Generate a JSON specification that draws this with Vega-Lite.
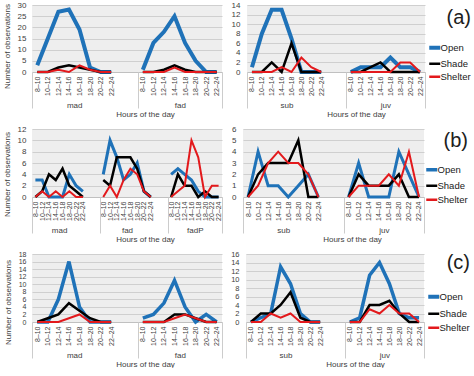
{
  "$schema": "https://vega.github.io/schema/vega-lite/v6.json",
  "padding": {"left": 3, "top": 1, "right": 0, "bottom": 0},
  "background": "white",
  "config": {
    "font": "Liberation Sans",
    "view": {"fill": "#eeeeee", "stroke": null},
    "axis": {"labelColor": "#404040", "titleColor": "#404040", "titleFontWeight": "normal"},
    "axisY": {"labelOverlap": false},
    "legend": {"labelColor": "#202020", "titleColor": "#202020"}
  },
  "datasets": {
    "aL": [
      {"g":"mad","h":"8–10","t":"Open","v":3},{"g":"mad","h":"10–12","t":"Open","v":15},{"g":"mad","h":"12–14","t":"Open","v":27},{"g":"mad","h":"14–16","t":"Open","v":28},{"g":"mad","h":"16–18","t":"Open","v":19},{"g":"mad","h":"18–20","t":"Open","v":2},{"g":"mad","h":"20–22","t":"Open","v":0},{"g":"mad","h":"22–24","t":"Open","v":0},
      {"g":"mad","h":"8–10","t":"Shade","v":0},{"g":"mad","h":"10–12","t":"Shade","v":0},{"g":"mad","h":"12–14","t":"Shade","v":2},{"g":"mad","h":"14–16","t":"Shade","v":3},{"g":"mad","h":"16–18","t":"Shade","v":2},{"g":"mad","h":"18–20","t":"Shade","v":1},{"g":"mad","h":"20–22","t":"Shade","v":0},{"g":"mad","h":"22–24","t":"Shade","v":0},
      {"g":"mad","h":"8–10","t":"Shelter","v":0},{"g":"mad","h":"10–12","t":"Shelter","v":0},{"g":"mad","h":"12–14","t":"Shelter","v":1},{"g":"mad","h":"14–16","t":"Shelter","v":0},{"g":"mad","h":"16–18","t":"Shelter","v":3},{"g":"mad","h":"18–20","t":"Shelter","v":1},{"g":"mad","h":"20–22","t":"Shelter","v":0},{"g":"mad","h":"22–24","t":"Shelter","v":0},
      {"g":"fad","h":"8–10","t":"Open","v":1},{"g":"fad","h":"10–12","t":"Open","v":13},{"g":"fad","h":"12–14","t":"Open","v":18},{"g":"fad","h":"14–16","t":"Open","v":25},{"g":"fad","h":"16–18","t":"Open","v":13},{"g":"fad","h":"18–20","t":"Open","v":5},{"g":"fad","h":"20–22","t":"Open","v":0},{"g":"fad","h":"22–24","t":"Open","v":0},
      {"g":"fad","h":"8–10","t":"Shade","v":0},{"g":"fad","h":"10–12","t":"Shade","v":0},{"g":"fad","h":"12–14","t":"Shade","v":1},{"g":"fad","h":"14–16","t":"Shade","v":3},{"g":"fad","h":"16–18","t":"Shade","v":1},{"g":"fad","h":"18–20","t":"Shade","v":0},{"g":"fad","h":"20–22","t":"Shade","v":0},{"g":"fad","h":"22–24","t":"Shade","v":0},
      {"g":"fad","h":"8–10","t":"Shelter","v":0},{"g":"fad","h":"10–12","t":"Shelter","v":0},{"g":"fad","h":"12–14","t":"Shelter","v":0},{"g":"fad","h":"14–16","t":"Shelter","v":2},{"g":"fad","h":"16–18","t":"Shelter","v":0},{"g":"fad","h":"18–20","t":"Shelter","v":0},{"g":"fad","h":"20–22","t":"Shelter","v":0},{"g":"fad","h":"22–24","t":"Shelter","v":0}
    ],
    "aR": [
      {"g":"sub","h":"8–10","t":"Open","v":1},{"g":"sub","h":"10–12","t":"Open","v":8},{"g":"sub","h":"12–14","t":"Open","v":13},{"g":"sub","h":"14–16","t":"Open","v":13},{"g":"sub","h":"16–18","t":"Open","v":7},{"g":"sub","h":"18–20","t":"Open","v":0},{"g":"sub","h":"20–22","t":"Open","v":0},{"g":"sub","h":"22–24","t":"Open","v":0},
      {"g":"sub","h":"8–10","t":"Shade","v":0},{"g":"sub","h":"10–12","t":"Shade","v":0},{"g":"sub","h":"12–14","t":"Shade","v":2},{"g":"sub","h":"14–16","t":"Shade","v":0},{"g":"sub","h":"16–18","t":"Shade","v":6},{"g":"sub","h":"18–20","t":"Shade","v":0},{"g":"sub","h":"20–22","t":"Shade","v":0},{"g":"sub","h":"22–24","t":"Shade","v":0},
      {"g":"sub","h":"8–10","t":"Shelter","v":0},{"g":"sub","h":"10–12","t":"Shelter","v":0},{"g":"sub","h":"12–14","t":"Shelter","v":0},{"g":"sub","h":"14–16","t":"Shelter","v":1},{"g":"sub","h":"16–18","t":"Shelter","v":0},{"g":"sub","h":"18–20","t":"Shelter","v":3},{"g":"sub","h":"20–22","t":"Shelter","v":1},{"g":"sub","h":"22–24","t":"Shelter","v":0},
      {"g":"juv","h":"8–10","t":"Open","v":0},{"g":"juv","h":"10–12","t":"Open","v":1},{"g":"juv","h":"12–14","t":"Open","v":1},{"g":"juv","h":"14–16","t":"Open","v":1},{"g":"juv","h":"16–18","t":"Open","v":3},{"g":"juv","h":"18–20","t":"Open","v":1},{"g":"juv","h":"20–22","t":"Open","v":1},{"g":"juv","h":"22–24","t":"Open","v":0},
      {"g":"juv","h":"8–10","t":"Shade","v":0},{"g":"juv","h":"10–12","t":"Shade","v":0},{"g":"juv","h":"12–14","t":"Shade","v":1},{"g":"juv","h":"14–16","t":"Shade","v":2},{"g":"juv","h":"16–18","t":"Shade","v":0},{"g":"juv","h":"18–20","t":"Shade","v":0},{"g":"juv","h":"20–22","t":"Shade","v":0},{"g":"juv","h":"22–24","t":"Shade","v":0},
      {"g":"juv","h":"8–10","t":"Shelter","v":0},{"g":"juv","h":"10–12","t":"Shelter","v":0},{"g":"juv","h":"12–14","t":"Shelter","v":0},{"g":"juv","h":"14–16","t":"Shelter","v":0},{"g":"juv","h":"16–18","t":"Shelter","v":0},{"g":"juv","h":"18–20","t":"Shelter","v":2},{"g":"juv","h":"20–22","t":"Shelter","v":2},{"g":"juv","h":"22–24","t":"Shelter","v":0}
    ],
    "bL": [
      {"g":"mad","h":"8–10","t":"Open","v":3},{"g":"mad","h":"10–12","t":"Open","v":3},{"g":"mad","h":"12–14","t":"Open","v":0},{"g":"mad","h":"14–16","t":"Open","v":0},{"g":"mad","h":"16–18","t":"Open","v":0},{"g":"mad","h":"18–20","t":"Open","v":4},{"g":"mad","h":"20–22","t":"Open","v":2},{"g":"mad","h":"22–24","t":"Open","v":1},
      {"g":"mad","h":"8–10","t":"Shade","v":0},{"g":"mad","h":"10–12","t":"Shade","v":1},{"g":"mad","h":"12–14","t":"Shade","v":4},{"g":"mad","h":"14–16","t":"Shade","v":3},{"g":"mad","h":"16–18","t":"Shade","v":5},{"g":"mad","h":"18–20","t":"Shade","v":2},{"g":"mad","h":"20–22","t":"Shade","v":1},{"g":"mad","h":"22–24","t":"Shade","v":0},
      {"g":"mad","h":"8–10","t":"Shelter","v":0},{"g":"mad","h":"10–12","t":"Shelter","v":1},{"g":"mad","h":"12–14","t":"Shelter","v":0},{"g":"mad","h":"14–16","t":"Shelter","v":1},{"g":"mad","h":"16–18","t":"Shelter","v":0},{"g":"mad","h":"18–20","t":"Shelter","v":1},{"g":"mad","h":"20–22","t":"Shelter","v":0},{"g":"mad","h":"22–24","t":"Shelter","v":0},
      {"g":"fad","h":"8–10","t":"Open","v":4},{"g":"fad","h":"10–12","t":"Open","v":10},{"g":"fad","h":"12–14","t":"Open","v":7},{"g":"fad","h":"14–16","t":"Open","v":3},{"g":"fad","h":"16–18","t":"Open","v":4},{"g":"fad","h":"18–20","t":"Open","v":6},{"g":"fad","h":"20–22","t":"Open","v":1},{"g":"fad","h":"22–24","t":"Open","v":0},
      {"g":"fad","h":"8–10","t":"Shade","v":3},{"g":"fad","h":"10–12","t":"Shade","v":2},{"g":"fad","h":"12–14","t":"Shade","v":7},{"g":"fad","h":"14–16","t":"Shade","v":7},{"g":"fad","h":"16–18","t":"Shade","v":7},{"g":"fad","h":"18–20","t":"Shade","v":5},{"g":"fad","h":"20–22","t":"Shade","v":1},{"g":"fad","h":"22–24","t":"Shade","v":0},
      {"g":"fad","h":"8–10","t":"Shelter","v":0},{"g":"fad","h":"10–12","t":"Shelter","v":2},{"g":"fad","h":"12–14","t":"Shelter","v":0},{"g":"fad","h":"14–16","t":"Shelter","v":3},{"g":"fad","h":"16–18","t":"Shelter","v":5},{"g":"fad","h":"18–20","t":"Shelter","v":4},{"g":"fad","h":"20–22","t":"Shelter","v":1},{"g":"fad","h":"22–24","t":"Shelter","v":0},
      {"g":"fadP","h":"8–10","t":"Open","v":4},{"g":"fadP","h":"10–12","t":"Open","v":5},{"g":"fadP","h":"12–14","t":"Open","v":4},{"g":"fadP","h":"14–16","t":"Open","v":3},{"g":"fadP","h":"16–18","t":"Open","v":1},{"g":"fadP","h":"18–20","t":"Open","v":0},{"g":"fadP","h":"20–22","t":"Open","v":0},{"g":"fadP","h":"22–24","t":"Open","v":0},
      {"g":"fadP","h":"8–10","t":"Shade","v":0},{"g":"fadP","h":"10–12","t":"Shade","v":4},{"g":"fadP","h":"12–14","t":"Shade","v":2},{"g":"fadP","h":"14–16","t":"Shade","v":2},{"g":"fadP","h":"16–18","t":"Shade","v":0},{"g":"fadP","h":"18–20","t":"Shade","v":1},{"g":"fadP","h":"20–22","t":"Shade","v":0},{"g":"fadP","h":"22–24","t":"Shade","v":0},
      {"g":"fadP","h":"8–10","t":"Shelter","v":0},{"g":"fadP","h":"10–12","t":"Shelter","v":1},{"g":"fadP","h":"12–14","t":"Shelter","v":2},{"g":"fadP","h":"14–16","t":"Shelter","v":10},{"g":"fadP","h":"16–18","t":"Shelter","v":7},{"g":"fadP","h":"18–20","t":"Shelter","v":0},{"g":"fadP","h":"20–22","t":"Shelter","v":2},{"g":"fadP","h":"22–24","t":"Shelter","v":2}
    ],
    "bR": [
      {"g":"sub","h":"8–10","t":"Open","v":0},{"g":"sub","h":"10–12","t":"Open","v":4},{"g":"sub","h":"12–14","t":"Open","v":1},{"g":"sub","h":"14–16","t":"Open","v":1},{"g":"sub","h":"16–18","t":"Open","v":0},{"g":"sub","h":"18–20","t":"Open","v":1},{"g":"sub","h":"20–22","t":"Open","v":2},{"g":"sub","h":"22–24","t":"Open","v":0},
      {"g":"sub","h":"8–10","t":"Shade","v":0},{"g":"sub","h":"10–12","t":"Shade","v":2},{"g":"sub","h":"12–14","t":"Shade","v":3},{"g":"sub","h":"14–16","t":"Shade","v":3},{"g":"sub","h":"16–18","t":"Shade","v":3},{"g":"sub","h":"18–20","t":"Shade","v":5},{"g":"sub","h":"20–22","t":"Shade","v":0},{"g":"sub","h":"22–24","t":"Shade","v":0},
      {"g":"sub","h":"8–10","t":"Shelter","v":0},{"g":"sub","h":"10–12","t":"Shelter","v":1},{"g":"sub","h":"12–14","t":"Shelter","v":3},{"g":"sub","h":"14–16","t":"Shelter","v":4},{"g":"sub","h":"16–18","t":"Shelter","v":3},{"g":"sub","h":"18–20","t":"Shelter","v":3},{"g":"sub","h":"20–22","t":"Shelter","v":2},{"g":"sub","h":"22–24","t":"Shelter","v":0},
      {"g":"juv","h":"8–10","t":"Open","v":0},{"g":"juv","h":"10–12","t":"Open","v":3},{"g":"juv","h":"12–14","t":"Open","v":0},{"g":"juv","h":"14–16","t":"Open","v":0},{"g":"juv","h":"16–18","t":"Open","v":0},{"g":"juv","h":"18–20","t":"Open","v":4},{"g":"juv","h":"20–22","t":"Open","v":2},{"g":"juv","h":"22–24","t":"Open","v":0},
      {"g":"juv","h":"8–10","t":"Shade","v":0},{"g":"juv","h":"10–12","t":"Shade","v":2},{"g":"juv","h":"12–14","t":"Shade","v":1},{"g":"juv","h":"14–16","t":"Shade","v":1},{"g":"juv","h":"16–18","t":"Shade","v":1},{"g":"juv","h":"18–20","t":"Shade","v":2},{"g":"juv","h":"20–22","t":"Shade","v":0},{"g":"juv","h":"22–24","t":"Shade","v":0},
      {"g":"juv","h":"8–10","t":"Shelter","v":0},{"g":"juv","h":"10–12","t":"Shelter","v":1},{"g":"juv","h":"12–14","t":"Shelter","v":1},{"g":"juv","h":"14–16","t":"Shelter","v":1},{"g":"juv","h":"16–18","t":"Shelter","v":2},{"g":"juv","h":"18–20","t":"Shelter","v":1},{"g":"juv","h":"20–22","t":"Shelter","v":4},{"g":"juv","h":"22–24","t":"Shelter","v":0}
    ],
    "cL": [
      {"g":"mad","h":"8–10","t":"Open","v":0},{"g":"mad","h":"10–12","t":"Open","v":0},{"g":"mad","h":"12–14","t":"Open","v":6},{"g":"mad","h":"14–16","t":"Open","v":16},{"g":"mad","h":"16–18","t":"Open","v":4},{"g":"mad","h":"18–20","t":"Open","v":0},{"g":"mad","h":"20–22","t":"Open","v":0},{"g":"mad","h":"22–24","t":"Open","v":0},
      {"g":"mad","h":"8–10","t":"Shade","v":0},{"g":"mad","h":"10–12","t":"Shade","v":1},{"g":"mad","h":"12–14","t":"Shade","v":2},{"g":"mad","h":"14–16","t":"Shade","v":5},{"g":"mad","h":"16–18","t":"Shade","v":3},{"g":"mad","h":"18–20","t":"Shade","v":1},{"g":"mad","h":"20–22","t":"Shade","v":0},{"g":"mad","h":"22–24","t":"Shade","v":0},
      {"g":"mad","h":"8–10","t":"Shelter","v":0},{"g":"mad","h":"10–12","t":"Shelter","v":0},{"g":"mad","h":"12–14","t":"Shelter","v":0},{"g":"mad","h":"14–16","t":"Shelter","v":1},{"g":"mad","h":"16–18","t":"Shelter","v":2},{"g":"mad","h":"18–20","t":"Shelter","v":0},{"g":"mad","h":"20–22","t":"Shelter","v":0},{"g":"mad","h":"22–24","t":"Shelter","v":0},
      {"g":"fad","h":"8–10","t":"Open","v":1},{"g":"fad","h":"10–12","t":"Open","v":2},{"g":"fad","h":"12–14","t":"Open","v":5},{"g":"fad","h":"14–16","t":"Open","v":11},{"g":"fad","h":"16–18","t":"Open","v":4},{"g":"fad","h":"18–20","t":"Open","v":0},{"g":"fad","h":"20–22","t":"Open","v":2},{"g":"fad","h":"22–24","t":"Open","v":0},
      {"g":"fad","h":"8–10","t":"Shade","v":0},{"g":"fad","h":"10–12","t":"Shade","v":0},{"g":"fad","h":"12–14","t":"Shade","v":0},{"g":"fad","h":"14–16","t":"Shade","v":2},{"g":"fad","h":"16–18","t":"Shade","v":2},{"g":"fad","h":"18–20","t":"Shade","v":1},{"g":"fad","h":"20–22","t":"Shade","v":0},{"g":"fad","h":"22–24","t":"Shade","v":0},
      {"g":"fad","h":"8–10","t":"Shelter","v":0},{"g":"fad","h":"10–12","t":"Shelter","v":0},{"g":"fad","h":"12–14","t":"Shelter","v":0},{"g":"fad","h":"14–16","t":"Shelter","v":1},{"g":"fad","h":"16–18","t":"Shelter","v":2},{"g":"fad","h":"18–20","t":"Shelter","v":1},{"g":"fad","h":"20–22","t":"Shelter","v":0},{"g":"fad","h":"22–24","t":"Shelter","v":0}
    ],
    "cR": [
      {"g":"sub","h":"8–10","t":"Open","v":0},{"g":"sub","h":"10–12","t":"Open","v":1},{"g":"sub","h":"12–14","t":"Open","v":2},{"g":"sub","h":"14–16","t":"Open","v":13},{"g":"sub","h":"16–18","t":"Open","v":9},{"g":"sub","h":"18–20","t":"Open","v":2},{"g":"sub","h":"20–22","t":"Open","v":0},{"g":"sub","h":"22–24","t":"Open","v":0},
      {"g":"sub","h":"8–10","t":"Shade","v":0},{"g":"sub","h":"10–12","t":"Shade","v":2},{"g":"sub","h":"12–14","t":"Shade","v":2},{"g":"sub","h":"14–16","t":"Shade","v":4},{"g":"sub","h":"16–18","t":"Shade","v":7},{"g":"sub","h":"18–20","t":"Shade","v":1},{"g":"sub","h":"20–22","t":"Shade","v":0},{"g":"sub","h":"22–24","t":"Shade","v":0},
      {"g":"sub","h":"8–10","t":"Shelter","v":0},{"g":"sub","h":"10–12","t":"Shelter","v":0},{"g":"sub","h":"12–14","t":"Shelter","v":2},{"g":"sub","h":"14–16","t":"Shelter","v":1},{"g":"sub","h":"16–18","t":"Shelter","v":2},{"g":"sub","h":"18–20","t":"Shelter","v":0},{"g":"sub","h":"20–22","t":"Shelter","v":0},{"g":"sub","h":"22–24","t":"Shelter","v":0},
      {"g":"juv","h":"8–10","t":"Open","v":0},{"g":"juv","h":"10–12","t":"Open","v":1},{"g":"juv","h":"12–14","t":"Open","v":11},{"g":"juv","h":"14–16","t":"Open","v":14},{"g":"juv","h":"16–18","t":"Open","v":9},{"g":"juv","h":"18–20","t":"Open","v":2},{"g":"juv","h":"20–22","t":"Open","v":1},{"g":"juv","h":"22–24","t":"Open","v":1},
      {"g":"juv","h":"8–10","t":"Shade","v":0},{"g":"juv","h":"10–12","t":"Shade","v":0},{"g":"juv","h":"12–14","t":"Shade","v":4},{"g":"juv","h":"14–16","t":"Shade","v":4},{"g":"juv","h":"16–18","t":"Shade","v":5},{"g":"juv","h":"18–20","t":"Shade","v":2},{"g":"juv","h":"20–22","t":"Shade","v":0},{"g":"juv","h":"22–24","t":"Shade","v":0},
      {"g":"juv","h":"8–10","t":"Shelter","v":0},{"g":"juv","h":"10–12","t":"Shelter","v":0},{"g":"juv","h":"12–14","t":"Shelter","v":3},{"g":"juv","h":"14–16","t":"Shelter","v":2},{"g":"juv","h":"16–18","t":"Shelter","v":4},{"g":"juv","h":"18–20","t":"Shelter","v":2},{"g":"juv","h":"20–22","t":"Shelter","v":2},{"g":"juv","h":"22–24","t":"Shelter","v":0}
    ]
  },
  "spacing": 7,
  "resolve": {"scale": {"color": "independent"}, "legend": {"color": "independent"}},
  "vconcat": [
    {
      "spacing": 6,
      "resolve": {"scale": {"color": "independent"}, "legend": {"color": "independent"}},
      "hconcat": [
        {
          "width": 190, "height": 67,
          "data": {"name": "aL"},
          "transform": [{"calculate": "datum.g + '|' + datum.h", "as": "cat"}],
          "resolve": {"scale": {"x": "independent"}, "axis": {"x": "independent"}},
          "layer": [
            {
              "mark": {"type": "line"},
              "encoding": {
                "x": {"field": "cat", "type": "ordinal", "scale": {"type": "point", "padding": 0.5, "domain": ["mad|8–10","mad|10–12","mad|12–14","mad|14–16","mad|16–18","mad|18–20","mad|20–22","mad|22–24","mad|b1","mad|b2","fad|8–10","fad|10–12","fad|12–14","fad|14–16","fad|16–18","fad|18–20","fad|20–22","fad|22–24"]},
                  "axis": {"title": null, "labelExpr": "indexof(datum.value,'|b')>=0 ? '' : split(datum.value,'|')[1]", "labelAngle": -90, "labelFontSize": 7, "labelPadding": 4, "ticks": false, "grid": false, "domainColor": "#c0c0c0", "labelOverlap": false}},
                "y": {"field": "v", "type": "quantitative", "scale": {"domain": [0, 30], "nice": false},
                  "axis": {"values": [0,5,10,15,20,25,30], "title": "Number of observations", "titleFontSize": 8, "titlePadding": 6, "titleY": 41, "grid": true, "gridColor": "#cfcfcf", "domain": false, "ticks": false, "labelFontSize": 8, "labelPadding": 6, "labelOverlap": false}},
                "color": {"field": "t", "type": "nominal", "scale": {"domain": ["Open","Shade","Shelter"], "range": ["#1f72b8","#000000","#e3191c"]}, "legend": null},
                "detail": {"field": "g"},
                "strokeWidth": {"condition": [{"test": "datum.t==='Open'", "value": 4}, {"test": "datum.t==='Shade'", "value": 2.5}], "value": 2}
              }
            },
            {
              "mark": {"type": "point", "opacity": 0},
              "encoding": {
                "x": {"datum": 0, "type": "quantitative", "scale": {"domain": [0, 18], "nice": false, "zero": false},
                  "axis": {"orient": "bottom", "values": [0,4,10,14,18], "domain": false, "grid": false, "tickSize": 36, "tickColor": "#cccccc",
                    "tickOpacity": {"condition": {"test": "datum.value==4 || datum.value==14", "value": 0}, "value": 1},
                    "labelExpr": "datum.value==4 ? 'mad' : datum.value==14 ? 'fad' : ''", "labelPadding": -7, "labelFontSize": 8, "labelBaseline": "top", "labelOverlap": false, "labelFlush": false, "labelBound": false,
                    "title": "Hours of the day", "titleFontSize": 8, "titlePadding": 1, "titleX": 113}}
              }
            }
          ]
        },
        {
          "width": 178, "height": 67,
          "data": {"name": "aR"},
          "transform": [{"calculate": "datum.g + '|' + datum.h", "as": "cat"}],
          "resolve": {"scale": {"x": "independent"}, "axis": {"x": "independent"}},
          "layer": [
            {
              "mark": {"type": "line"},
              "encoding": {
                "x": {"field": "cat", "type": "ordinal", "scale": {"type": "point", "padding": 0.5, "domain": ["sub|8–10","sub|10–12","sub|12–14","sub|14–16","sub|16–18","sub|18–20","sub|20–22","sub|22–24","sub|b1","sub|b2","juv|8–10","juv|10–12","juv|12–14","juv|14–16","juv|16–18","juv|18–20","juv|20–22","juv|22–24"]},
                  "axis": {"title": null, "labelExpr": "indexof(datum.value,'|b')>=0 ? '' : split(datum.value,'|')[1]", "labelAngle": -90, "labelFontSize": 7, "labelPadding": 4, "ticks": false, "grid": false, "domainColor": "#c0c0c0", "labelOverlap": false}},
                "y": {"field": "v", "type": "quantitative", "scale": {"domain": [0, 14], "nice": false},
                  "axis": {"values": [0,2,4,6,8,10,12,14], "title": null, "grid": true, "gridColor": "#cfcfcf", "domain": false, "ticks": false, "labelFontSize": 8, "labelPadding": 7, "labelOverlap": false}},
                "color": {"field": "t", "type": "nominal", "scale": {"domain": ["Open","Shade","Shelter"], "range": ["#1f72b8","#000000","#e3191c"]},
                  "legend": {"orient": "none", "legendX": 183, "legendY": 3, "title": "(a)", "titleFontSize": 20, "titleFontWeight": "normal", "titleAnchor": "end", "titlePadding": 15,
                    "symbolType": "stroke", "symbolSize": 121, "symbolStrokeWidth": 2.5, "labelFontSize": 9.5, "labelOffset": 1, "rowPadding": 2,
                    "encode": {"symbols": {"update": {"strokeWidth": {"signal": "datum.value==='Open' ? 4 : 2.5"}}}}}},
                "detail": {"field": "g"},
                "strokeWidth": {"condition": [{"test": "datum.t==='Open'", "value": 4}, {"test": "datum.t==='Shade'", "value": 2.5}], "value": 2}
              }
            },
            {
              "mark": {"type": "point", "opacity": 0},
              "encoding": {
                "x": {"datum": 0, "type": "quantitative", "scale": {"domain": [0, 18], "nice": false, "zero": false},
                  "axis": {"orient": "bottom", "values": [0,4,10,14,18], "domain": false, "grid": false, "tickSize": 36, "tickColor": "#cccccc",
                    "tickOpacity": {"condition": {"test": "datum.value==4 || datum.value==14", "value": 0}, "value": 1},
                    "labelExpr": "datum.value==4 ? 'sub' : datum.value==14 ? 'juv' : ''", "labelPadding": -7, "labelFontSize": 8, "labelBaseline": "top", "labelOverlap": false, "labelFlush": false, "labelBound": false,
                    "title": "Hours of the day", "titleFontSize": 8, "titlePadding": 1, "titleX": 109}}
              }
            }
          ]
        }
      ]
    },
    {
      "spacing": 6,
      "resolve": {"scale": {"color": "independent"}, "legend": {"color": "independent"}},
      "hconcat": [
        {
          "width": 190, "height": 68,
          "data": {"name": "bL"},
          "transform": [{"calculate": "datum.g + '|' + datum.h", "as": "cat"}],
          "resolve": {"scale": {"x": "independent"}, "axis": {"x": "independent"}},
          "layer": [
            {
              "mark": {"type": "line"},
              "encoding": {
                "x": {"field": "cat", "type": "ordinal", "scale": {"type": "point", "padding": 0.5, "domain": ["mad|8–10","mad|10–12","mad|12–14","mad|14–16","mad|16–18","mad|18–20","mad|20–22","mad|22–24","mad|b1","mad|b2","fad|8–10","fad|10–12","fad|12–14","fad|14–16","fad|16–18","fad|18–20","fad|20–22","fad|22–24","fad|b1","fad|b2","fadP|8–10","fadP|10–12","fadP|12–14","fadP|14–16","fadP|16–18","fadP|18–20","fadP|20–22","fadP|22–24"]},
                  "axis": {"title": null, "labelExpr": "indexof(datum.value,'|b')>=0 ? '' : split(datum.value,'|')[1]", "labelAngle": -90, "labelFontSize": 7, "labelPadding": 4, "ticks": false, "grid": false, "domainColor": "#c0c0c0", "labelOverlap": false}},
                "y": {"field": "v", "type": "quantitative", "scale": {"domain": [0, 12], "nice": false},
                  "axis": {"values": [0,2,4,6,8,10,12], "title": "Number of observations", "titleFontSize": 8, "titlePadding": 6, "titleY": 45, "grid": true, "gridColor": "#cfcfcf", "domain": false, "ticks": false, "labelFontSize": 8, "labelPadding": 6, "labelOverlap": false}},
                "color": {"field": "t", "type": "nominal", "scale": {"domain": ["Open","Shade","Shelter"], "range": ["#1f72b8","#000000","#e3191c"]}, "legend": null},
                "detail": {"field": "g"},
                "strokeWidth": {"condition": [{"test": "datum.t==='Open'", "value": 3}, {"test": "datum.t==='Shade'", "value": 2.5}], "value": 2}
              }
            },
            {
              "mark": {"type": "point", "opacity": 0},
              "encoding": {
                "x": {"datum": 0, "type": "quantitative", "scale": {"domain": [0, 28], "nice": false, "zero": false},
                  "axis": {"orient": "bottom", "values": [0,4,10,14,20,24,28], "domain": false, "grid": false, "tickSize": 36, "tickColor": "#cccccc",
                    "tickOpacity": {"condition": {"test": "datum.value==4 || datum.value==14 || datum.value==24", "value": 0}, "value": 1},
                    "labelExpr": "datum.value==4 ? 'mad' : datum.value==14 ? 'fad' : datum.value==24 ? 'fadP' : ''", "labelPadding": -7, "labelFontSize": 8, "labelBaseline": "top", "labelOverlap": false, "labelFlush": false, "labelBound": false,
                    "title": "Hours of the day", "titleFontSize": 8, "titlePadding": 1, "titleX": 113}}
              }
            }
          ]
        },
        {
          "width": 181, "height": 68,
          "data": {"name": "bR"},
          "transform": [{"calculate": "datum.g + '|' + datum.h", "as": "cat"}],
          "resolve": {"scale": {"x": "independent"}, "axis": {"x": "independent"}},
          "layer": [
            {
              "mark": {"type": "line"},
              "encoding": {
                "x": {"field": "cat", "type": "ordinal", "scale": {"type": "point", "padding": 0.5, "domain": ["sub|8–10","sub|10–12","sub|12–14","sub|14–16","sub|16–18","sub|18–20","sub|20–22","sub|22–24","sub|b1","sub|b2","juv|8–10","juv|10–12","juv|12–14","juv|14–16","juv|16–18","juv|18–20","juv|20–22","juv|22–24"]},
                  "axis": {"title": null, "labelExpr": "indexof(datum.value,'|b')>=0 ? '' : split(datum.value,'|')[1]", "labelAngle": -90, "labelFontSize": 7, "labelPadding": 4, "ticks": false, "grid": false, "domainColor": "#c0c0c0", "labelOverlap": false}},
                "y": {"field": "v", "type": "quantitative", "scale": {"domain": [0, 6], "nice": false},
                  "axis": {"values": [0,1,2,3,4,5,6], "title": null, "grid": true, "gridColor": "#cfcfcf", "domain": false, "ticks": false, "labelFontSize": 8, "labelPadding": 7, "labelOverlap": false}},
                "color": {"field": "t", "type": "nominal", "scale": {"domain": ["Open","Shade","Shelter"], "range": ["#1f72b8","#000000","#e3191c"]},
                  "legend": {"orient": "none", "legendX": 184, "legendY": 2, "title": "(b)", "titleFontSize": 20, "titleFontWeight": "normal", "titleAnchor": "end", "titlePadding": 14,
                    "symbolType": "stroke", "symbolSize": 121, "symbolStrokeWidth": 2.5, "labelFontSize": 9.5, "labelOffset": 1, "rowPadding": 3,
                    "encode": {"symbols": {"update": {"strokeWidth": {"signal": "datum.value==='Open' ? 3.5 : 2.5"}}}}}},
                "detail": {"field": "g"},
                "strokeWidth": {"condition": [{"test": "datum.t==='Open'", "value": 3}, {"test": "datum.t==='Shade'", "value": 2.5}], "value": 2}
              }
            },
            {
              "mark": {"type": "point", "opacity": 0},
              "encoding": {
                "x": {"datum": 0, "type": "quantitative", "scale": {"domain": [0, 18], "nice": false, "zero": false},
                  "axis": {"orient": "bottom", "values": [0,4,10,14,18], "domain": false, "grid": false, "tickSize": 36, "tickColor": "#cccccc",
                    "tickOpacity": {"condition": {"test": "datum.value==4 || datum.value==14", "value": 0}, "value": 1},
                    "labelExpr": "datum.value==4 ? 'sub' : datum.value==14 ? 'juv' : ''", "labelPadding": -7, "labelFontSize": 8, "labelBaseline": "top", "labelOverlap": false, "labelFlush": false, "labelBound": false,
                    "title": "Hours of the day", "titleFontSize": 8, "titlePadding": 1, "titleX": 109}}
              }
            }
          ]
        }
      ]
    },
    {
      "spacing": 6,
      "resolve": {"scale": {"color": "independent"}, "legend": {"color": "independent"}},
      "hconcat": [
        {
          "width": 190, "height": 68,
          "data": {"name": "cL"},
          "transform": [{"calculate": "datum.g + '|' + datum.h", "as": "cat"}],
          "resolve": {"scale": {"x": "independent"}, "axis": {"x": "independent"}},
          "layer": [
            {
              "mark": {"type": "line"},
              "encoding": {
                "x": {"field": "cat", "type": "ordinal", "scale": {"type": "point", "padding": 0.5, "domain": ["mad|8–10","mad|10–12","mad|12–14","mad|14–16","mad|16–18","mad|18–20","mad|20–22","mad|22–24","mad|b1","mad|b2","fad|8–10","fad|10–12","fad|12–14","fad|14–16","fad|16–18","fad|18–20","fad|20–22","fad|22–24"]},
                  "axis": {"title": null, "labelExpr": "indexof(datum.value,'|b')>=0 ? '' : split(datum.value,'|')[1]", "labelAngle": -90, "labelFontSize": 7, "labelPadding": 4, "ticks": false, "grid": false, "domainColor": "#c0c0c0", "labelOverlap": false}},
                "y": {"field": "v", "type": "quantitative", "scale": {"domain": [0, 18], "nice": false},
                  "axis": {"values": [0,2,4,6,8,10,12,14,16,18], "title": "Number of observations", "titleFontSize": 8, "titlePadding": 6, "titleY": 48, "grid": true, "gridColor": "#cfcfcf", "domain": false, "ticks": false, "labelFontSize": 7, "labelPadding": 6, "labelOverlap": false}},
                "color": {"field": "t", "type": "nominal", "scale": {"domain": ["Open","Shade","Shelter"], "range": ["#1f72b8","#000000","#e3191c"]}, "legend": null},
                "detail": {"field": "g"},
                "strokeWidth": {"condition": [{"test": "datum.t==='Open'", "value": 3.5}, {"test": "datum.t==='Shade'", "value": 2.5}], "value": 2}
              }
            },
            {
              "mark": {"type": "point", "opacity": 0},
              "encoding": {
                "x": {"datum": 0, "type": "quantitative", "scale": {"domain": [0, 18], "nice": false, "zero": false},
                  "axis": {"orient": "bottom", "values": [0,4,10,14,18], "domain": false, "grid": false, "tickSize": 36, "tickColor": "#cccccc",
                    "tickOpacity": {"condition": {"test": "datum.value==4 || datum.value==14", "value": 0}, "value": 1},
                    "labelExpr": "datum.value==4 ? 'mad' : datum.value==14 ? 'fad' : ''", "labelPadding": -7, "labelFontSize": 8, "labelBaseline": "top", "labelOverlap": false, "labelFlush": false, "labelBound": false,
                    "title": "Hours of the day", "titleFontSize": 8, "titlePadding": 1, "titleX": 113}}
              }
            }
          ]
        },
        {
          "width": 178, "height": 68,
          "data": {"name": "cR"},
          "transform": [{"calculate": "datum.g + '|' + datum.h", "as": "cat"}],
          "resolve": {"scale": {"x": "independent"}, "axis": {"x": "independent"}},
          "layer": [
            {
              "mark": {"type": "line"},
              "encoding": {
                "x": {"field": "cat", "type": "ordinal", "scale": {"type": "point", "padding": 0.5, "domain": ["sub|8–10","sub|10–12","sub|12–14","sub|14–16","sub|16–18","sub|18–20","sub|20–22","sub|22–24","sub|b1","sub|b2","juv|8–10","juv|10–12","juv|12–14","juv|14–16","juv|16–18","juv|18–20","juv|20–22","juv|22–24"]},
                  "axis": {"title": null, "labelExpr": "indexof(datum.value,'|b')>=0 ? '' : split(datum.value,'|')[1]", "labelAngle": -90, "labelFontSize": 7, "labelPadding": 4, "ticks": false, "grid": false, "domainColor": "#c0c0c0", "labelOverlap": false}},
                "y": {"field": "v", "type": "quantitative", "scale": {"domain": [0, 16], "nice": false},
                  "axis": {"values": [0,2,4,6,8,10,12,14,16], "title": null, "grid": true, "gridColor": "#cfcfcf", "domain": false, "ticks": false, "labelFontSize": 7.5, "labelPadding": 7, "labelOverlap": false}},
                "color": {"field": "t", "type": "nominal", "scale": {"domain": ["Open","Shade","Shelter"], "range": ["#1f72b8","#000000","#e3191c"]},
                  "legend": {"orient": "none", "legendX": 183, "legendY": -1, "title": "(c)", "titleFontSize": 20, "titleFontWeight": "normal", "titleAnchor": "end", "titlePadding": 19,
                    "symbolType": "stroke", "symbolSize": 121, "symbolStrokeWidth": 2.5, "labelFontSize": 9.5, "labelOffset": 1, "rowPadding": 3,
                    "encode": {"symbols": {"update": {"strokeWidth": {"signal": "datum.value==='Open' ? 4 : 2.5"}}}}}},
                "detail": {"field": "g"},
                "strokeWidth": {"condition": [{"test": "datum.t==='Open'", "value": 3.5}, {"test": "datum.t==='Shade'", "value": 2.5}], "value": 2}
              }
            },
            {
              "mark": {"type": "point", "opacity": 0},
              "encoding": {
                "x": {"datum": 0, "type": "quantitative", "scale": {"domain": [0, 18], "nice": false, "zero": false},
                  "axis": {"orient": "bottom", "values": [0,4,10,14,18], "domain": false, "grid": false, "tickSize": 36, "tickColor": "#cccccc",
                    "tickOpacity": {"condition": {"test": "datum.value==4 || datum.value==14", "value": 0}, "value": 1},
                    "labelExpr": "datum.value==4 ? 'sub' : datum.value==14 ? 'juv' : ''", "labelPadding": -7, "labelFontSize": 8, "labelBaseline": "top", "labelOverlap": false, "labelFlush": false, "labelBound": false,
                    "title": "Hours of the day", "titleFontSize": 8, "titlePadding": 1, "titleX": 109}}
              }
            }
          ]
        }
      ]
    }
  ]
}
